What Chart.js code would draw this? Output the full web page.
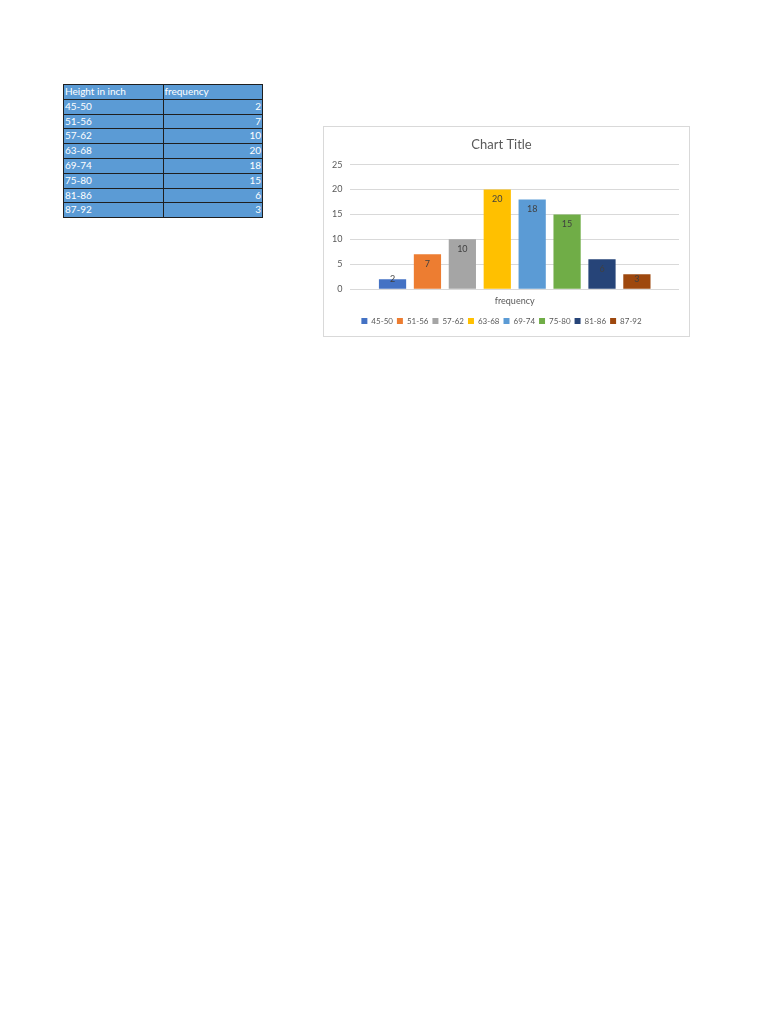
<!DOCTYPE html>
<html>
<head>
<meta charset="utf-8">
<script src="https://cdn.jsdelivr.net/npm/chart.js@4.4.0/dist/chart.umd.min.js"></script>
<style>
  body { margin: 0; background: #fff; font-family: Lato, "Open Sans", sans-serif; }
  #tbl { position: absolute; left: 63px; top: 84px; border-collapse: collapse; table-layout: fixed; width: 200px; font-size: 10px; color: #fff; }
  #tbl td { background: #5b9bd5; border: 1px solid #1f1f1f; height: 13.8px; padding: 0 1px; line-height: 13.8px; overflow: hidden; white-space: nowrap; }
  #tbl td.num { text-align: right; }
  #box { position: absolute; left: 323px; top: 126px; width: 365px; height: 209px; border: 1px solid #d9d9d9; }
</style>
</head>
<body>
<table id="tbl"></table>
<div id="box"><canvas id="myChart"></canvas></div>
<script>
var categories = ["45-50", "51-56", "57-62", "63-68", "69-74", "75-80", "81-86", "87-92"];
var frequency = [2, 7, 10, 20, 18, 15, 6, 3];
var barColors = ["#4472c4", "#ed7d31", "#a5a5a5", "#ffc000", "#5b9bd5", "#70ad47", "#264478", "#9e480e"];
var xLabels = ["frequency"];

// the little table on the left
var tbl = document.getElementById("tbl");
var head = tbl.insertRow(0);
head.insertCell(0).innerHTML = "Height in inch";
head.insertCell(1).innerHTML = "frequency";
for (var i = 0; i < categories.length; i++) {
  var row = tbl.insertRow(i + 1);
  row.insertCell(0).innerHTML = categories[i];
  var c = row.insertCell(1);
  c.innerHTML = frequency[i];
  c.className = "num";
}

var sets = [];
for (var i = 0; i < categories.length; i++) {
  sets.push({
    label: categories[i],
    data: [frequency[i]],
    backgroundColor: barColors[i],
    categoryPercentage: 0.85,
    barPercentage: 0.78
  });
}

// values written just inside the top of each bar (short bars: kept off the baseline)
var valueLabels = {
  id: "valueLabels",
  afterDatasetsDraw: function (chart) {
    var ctx = chart.ctx;
    ctx.save();
    ctx.font = "9px Lato";
    ctx.fillStyle = "#404040";
    ctx.textAlign = "center";
    ctx.textBaseline = "middle";
    chart.data.datasets.forEach(function (ds, k) {
      var bar = chart.getDatasetMeta(k).data[0];
      var y = Math.min(bar.y + 10, bar.base - 10);
      ctx.fillText(ds.data[0], bar.x, y);
    });
    ctx.restore();
  }
};

var chart = new Chart("myChart", {
  type: "bar",
  data: { labels: xLabels, datasets: sets },
  plugins: [valueLabels],
  options: {
    responsive: true,
    maintainAspectRatio: false,
    animation: false,
    layout: { padding: { left: 0, right: 10, top: 5, bottom: 1 } },
    plugins: {
      title: {
        display: true,
        text: "Chart Title",
        color: "#595959",
        font: { family: "Lato", size: 13, weight: "normal" },
        padding: { top: 5, bottom: 12 }
      },
      legend: {
        position: "bottom",
        labels: {
          boxWidth: 6,
          boxHeight: 6,
          padding: 4,
          color: "#595959",
          font: { family: "Lato", size: 8 }
        }
      },
      tooltip: { enabled: false }
    },
    scales: {
      x: {
        grid: { display: false },
        border: { display: false },
        ticks: { color: "#595959", font: { family: "Lato", size: 9 }, padding: -2 },
        afterFit: function (scale) { scale.height += 9; }
      },
      y: {
        min: 0,
        max: 25,
        ticks: { stepSize: 5, color: "#595959", font: { family: "Lato", size: 9 }, padding: 8 },
        grid: { color: "#d9d9d9", drawTicks: false },
        border: { display: false }
      }
    }
  }
});
</script>
</body>
</html>
